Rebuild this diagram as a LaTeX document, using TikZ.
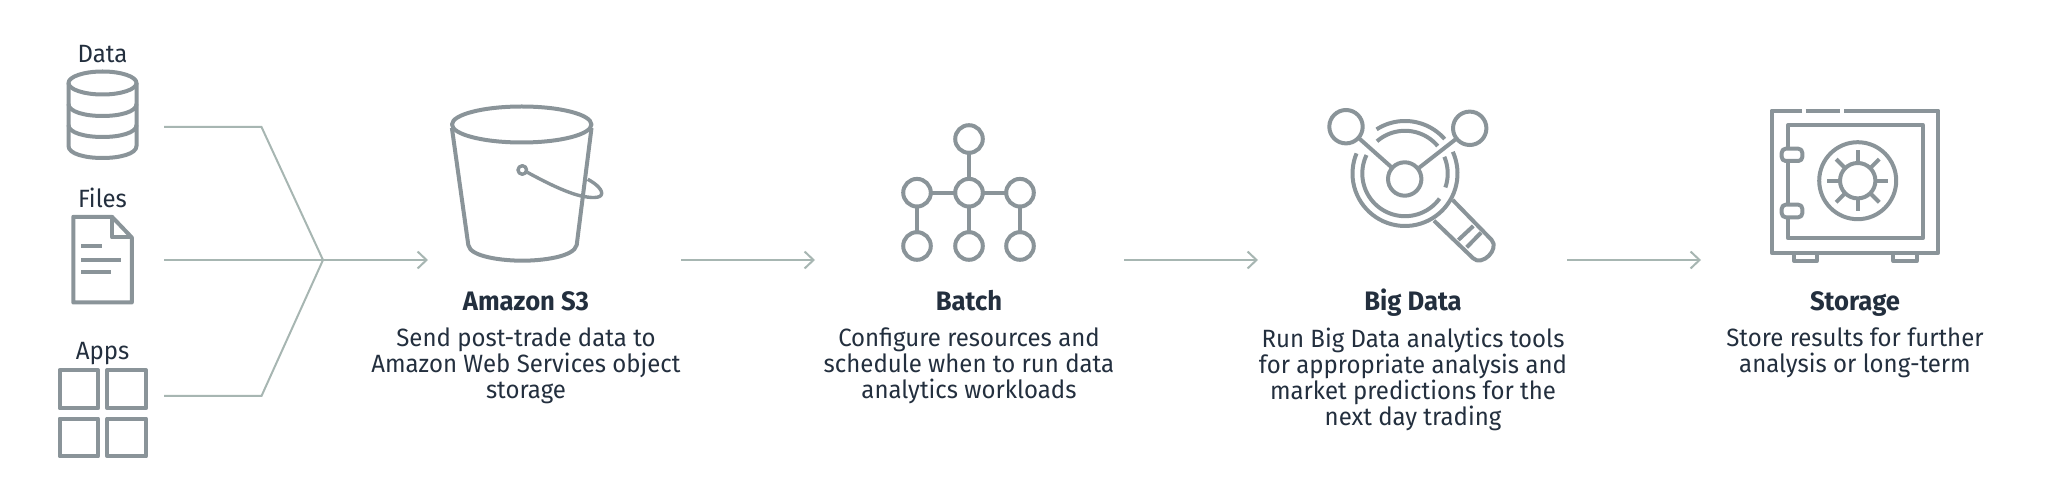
\documentclass[tikz,border=0pt]{standalone}
\usepackage{fontspec}
\setmainfont{Fira Sans}[FakeStretch=0.96]
\usetikzlibrary{arrows.meta}
\definecolor{iconc}{HTML}{8A9499}
\definecolor{linkc}{HTML}{A7B6B2}
\definecolor{textc}{HTML}{232F3E}
\tikzset{
  iconline/.style={draw=iconc,line width=4pt,line join=round},
  thinicon/.style={draw=iconc,line width=3.4pt,line join=round},
  ring/.style={circle,draw=iconc,line width=4pt,inner sep=0pt,outer sep=0pt,minimum size=#1,fill=white},
  link/.style={draw=linkc,line width=2pt,line join=miter},
  flow/.style={link,-{Straight Barb[length=9pt,width=17pt,line width=2pt]}},
  caption/.style={text=textc,font=\fontsize{25}{26}\selectfont,align=center,inner sep=0pt,anchor=base},
  heading/.style={text=textc,font=\fontsize{26.7}{28}\selectfont\bfseries,inner sep=0pt,anchor=base},
  small/.style={text=textc,font=\fontsize{25}{26}\selectfont,inner sep=0pt,anchor=base}
}
\newcommand\lensarc[3]{plot[domain=#2:#3,samples=50] ({1405+#1*cos(\x)},{173.5-#1*sin(\x)})}
\begin{document}
\begin{tikzpicture}[x=1pt,y=-1pt]
\useasboundingbox (0,0) rectangle (2048,502);
% left labels
\node[small] (ldata) at (102.5,63) {Data};
\node[small] (lfiles) at (102.5,207.7) {Files};
\node[small] (lapps) at (102.5,359.5) {Apps};
% database
\draw[iconline] (102.5,83) ellipse [x radius=34,y radius=11.5];
\draw[iconline] (68.5,83) -- (68.5,146) .. controls (68.5,162) and (136.5,162) .. (136.5,146) -- (136.5,83);
\draw[iconline] (68.5,104) .. controls (68.5,120) and (136.5,120) .. (136.5,104);
\draw[iconline] (68.5,125) .. controls (68.5,141) and (136.5,141) .. (136.5,125);
% file
\draw[iconline] (73.3,216.8) -- (112,216.8) -- (131.8,237.5) -- (131.8,302.5) -- (73.3,302.5) -- cycle;
\draw[iconline] (112,216.8) -- (112,237.5) -- (131.8,237.5);
\draw[iconline] (81,246) -- (101.5,246) (81,260) -- (120.5,260) (81,272.5) -- (110.5,272.5);
% apps
\draw[iconline] (59.5,370) rectangle (98,408.2);
\draw[iconline] (107.2,370) rectangle (146,408.2);
\draw[iconline] (59.5,418.5) rectangle (98,456.4);
\draw[iconline] (107.2,418.5) rectangle (146,456.4);
% input connectors
\coordinate (indata) at (164,127);
\coordinate (bend1) at (261.5,127);
\coordinate (infiles) at (164,260);
\coordinate (inapps) at (164,396);
\coordinate (bend2) at (261.5,396);
\coordinate (joint) at (323,260);
\coordinate (s3in) at (428,260);
\coordinate (s3out) at (681,260);
\coordinate (batchin) at (815,260);
\coordinate (batchout) at (1124,260);
\coordinate (bigin) at (1258,260);
\coordinate (bigout) at (1567,260);
\coordinate (storein) at (1701,260);
\draw[link] (indata) -- (bend1) -- (joint);
\draw[link] (inapps) -- (bend2) -- (joint);
\draw[flow] (infiles) -- (s3in);
\draw[flow] (s3out) -- (batchin);
\draw[flow] (batchout) -- (bigin);
\draw[flow] (bigout) -- (storein);
% bucket
\draw[iconline] (521.7,124.5) ellipse [x radius=69.7,y radius=18];
\draw[iconline] (451.9,128) -- (468.3,245) .. controls (470,257) and (503,260.7) .. (522.3,260.7) .. controls (542,260.7) and (574,257) .. (576.7,245) -- (591.5,128);
\draw[thinicon] (522.3,170) circle [radius=4.3];
\draw[thinicon] (527.3,172.3) .. controls (545,182) and (565,192) .. (580,195.7) .. controls (590,198) and (601.7,199) .. (601.7,193.3) .. controls (601.7,188) and (593,182) .. (587.7,179.3);
% batch
\node[ring=27.6pt] (b1) at (969,139) {};
\node[ring=27.6pt] (b2) at (917,192.7) {};
\node[ring=27.6pt] (b3) at (969,192.7) {};
\node[ring=27.6pt] (b4) at (1020,192.7) {};
\node[ring=27.6pt] (b5) at (917,246) {};
\node[ring=27.6pt] (b6) at (969,246) {};
\node[ring=27.6pt] (b7) at (1020,246) {};
\draw[iconline] (b1) -- (b3);
\draw[iconline] (b2) -- (b3);
\draw[iconline] (b3) -- (b4);
\draw[iconline] (b2) -- (b5);
\draw[iconline] (b3) -- (b6);
\draw[iconline] (b4) -- (b7);
% big data lens
\draw[iconline] \lensarc{52.5}{122.8}{41};
\draw[iconline] \lensarc{52.5}{24.4}{-202.5};
\draw[iconline] \lensarc{42.7}{131}{40};
\draw[iconline] \lensarc{42.7}{23}{-19};
\draw[iconline] \lensarc{42.7}{-36}{-205.6};
\draw[iconline] (1452.7,200) -- (1491.5,239.8) .. controls (1500,249) and (1482,267) .. (1473,258.2) -- (1434,220.7);
\draw[iconline] (1458.3,240) -- (1473.3,226) (1466.7,247.3) -- (1481,232.7);
\node[ring=33.4pt] (nl) at (1346,126.7) {};
\node[ring=33.4pt] (nr) at (1469.7,128.3) {};
\node[ring=33.4pt] (nc) at (1404.7,179) {};
\draw[iconline] (nl) -- (nc);
\draw[iconline] (nr) -- (nc);
% safe
\draw[iconline] (1802.3,110.7) -- (1771.7,110.7) -- (1771.7,252.7) -- (1938.3,252.7) -- (1938.3,110.7) -- (1843.7,110.7);
\draw[iconline] (1805.7,110.7) -- (1840.3,110.7);
\draw[iconline] (1794,252.7) -- (1794,261) -- (1816.7,261) -- (1816.7,252.7);
\draw[iconline] (1893.3,252.7) -- (1893.3,261) -- (1916.7,261) -- (1916.7,252.7);
\draw[iconline] (1788,125) rectangle (1922.7,238.3);
\draw[iconline,fill=white,rounded corners=4pt] (1781.7,148.7) rectangle (1802.3,161);
\draw[iconline,fill=white,rounded corners=4pt] (1781.7,204.7) rectangle (1802.3,217.3);
\node[ring=77pt] (dial) at (1857.7,180.7) {};
\foreach \a in {0,45,...,315}
  \draw[iconline] ({1857.7+17.7*cos(\a)},{180.7+17.7*sin(\a)}) -- ({1857.7+30.5*cos(\a)},{180.7+30.5*sin(\a)});
\node[ring=35.4pt] (hub) at (1857.7,180.7) {};
% headings
\node[heading] (h1) at (526,311) {Amazon S3};
\node[heading] (h2) at (969,311) {Batch};
\node[heading] (h3) at (1413,311) {Big Data};
\node[heading] (h4) at (1855,311) {Storage};
% captions: base anchor is the baseline of the last line
\node[caption] (c1) at (526,399) {Send post-trade data to\\Amazon Web Services object\\storage};
\node[caption] (c2) at (969,399) {Configure resources and\\schedule when to run data\\analytics workloads};
\node[caption] (c3) at (1413,425) {Run Big Data analytics tools\\for appropriate analysis and\\market predictions for the\\next day trading};
\node[caption] (c4) at (1855,373) {Store results for further\\analysis or long-term};
\end{tikzpicture}
\end{document}
